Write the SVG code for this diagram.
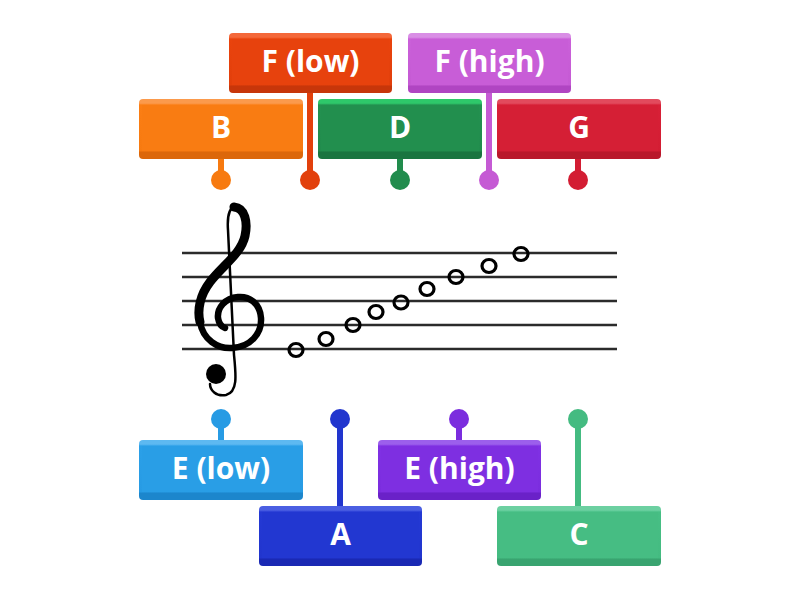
<svg xmlns="http://www.w3.org/2000/svg" width="800" height="600" viewBox="0 0 800 600">
<defs>
<style>
.lbl{font-family:"Open Sans","Noto Sans","Liberation Sans",sans-serif;font-weight:bold;font-size:30px;fill:#ffffff;text-anchor:middle}
.staff line{stroke:#2b2b2b;stroke-width:2.5}
.note{fill:none;stroke:#000;stroke-width:3.2}
.con line{stroke-width:6}
</style>
<linearGradient id="gFl" x1="0" y1="0" x2="0" y2="1"><stop offset="0" stop-color="#f4683a"/><stop offset="0.07" stop-color="#f4683a"/><stop offset="0.1" stop-color="#e9430d"/><stop offset="0.87" stop-color="#e23f0b"/><stop offset="0.88" stop-color="#c7360a"/><stop offset="1" stop-color="#c7360a"/></linearGradient>
<linearGradient id="gFh" x1="0" y1="0" x2="0" y2="1"><stop offset="0" stop-color="#d98ee5"/><stop offset="0.07" stop-color="#d98ee5"/><stop offset="0.1" stop-color="#ca60d9"/><stop offset="0.87" stop-color="#c55ad4"/><stop offset="0.88" stop-color="#b045c2"/><stop offset="1" stop-color="#b045c2"/></linearGradient>
<linearGradient id="gB" x1="0" y1="0" x2="0" y2="1"><stop offset="0" stop-color="#fb9a4c"/><stop offset="0.07" stop-color="#fb9a4c"/><stop offset="0.1" stop-color="#fb7e14"/><stop offset="0.87" stop-color="#f77a10"/><stop offset="0.88" stop-color="#dc670a"/><stop offset="1" stop-color="#dc670a"/></linearGradient>
<linearGradient id="gD" x1="0" y1="0" x2="0" y2="1"><stop offset="0" stop-color="#2ec86a"/><stop offset="0.07" stop-color="#2ec86a"/><stop offset="0.1" stop-color="#239150"/><stop offset="0.87" stop-color="#218c4d"/><stop offset="0.88" stop-color="#1a7540"/><stop offset="1" stop-color="#1a7540"/></linearGradient>
<linearGradient id="gG" x1="0" y1="0" x2="0" y2="1"><stop offset="0" stop-color="#e24a5d"/><stop offset="0.07" stop-color="#e24a5d"/><stop offset="0.1" stop-color="#d82037"/><stop offset="0.87" stop-color="#d31d33"/><stop offset="0.88" stop-color="#b9182b"/><stop offset="1" stop-color="#b9182b"/></linearGradient>
<linearGradient id="gEl" x1="0" y1="0" x2="0" y2="1"><stop offset="0" stop-color="#5db9f1"/><stop offset="0.07" stop-color="#5db9f1"/><stop offset="0.1" stop-color="#2ba0e8"/><stop offset="0.87" stop-color="#279be4"/><stop offset="0.88" stop-color="#1c86cc"/><stop offset="1" stop-color="#1c86cc"/></linearGradient>
<linearGradient id="gA" x1="0" y1="0" x2="0" y2="1"><stop offset="0" stop-color="#4b5fe2"/><stop offset="0.07" stop-color="#4b5fe2"/><stop offset="0.1" stop-color="#2439d4"/><stop offset="0.87" stop-color="#2135ce"/><stop offset="0.88" stop-color="#1a29b4"/><stop offset="1" stop-color="#1a29b4"/></linearGradient>
<linearGradient id="gEh" x1="0" y1="0" x2="0" y2="1"><stop offset="0" stop-color="#9c5fec"/><stop offset="0.07" stop-color="#9c5fec"/><stop offset="0.1" stop-color="#8031e4"/><stop offset="0.87" stop-color="#7b2dde"/><stop offset="0.88" stop-color="#6a21c8"/><stop offset="1" stop-color="#6a21c8"/></linearGradient>
<linearGradient id="gC" x1="0" y1="0" x2="0" y2="1"><stop offset="0" stop-color="#6cd0a1"/><stop offset="0.07" stop-color="#6cd0a1"/><stop offset="0.1" stop-color="#47bf85"/><stop offset="0.87" stop-color="#44bb81"/><stop offset="0.88" stop-color="#39a470"/><stop offset="1" stop-color="#39a470"/></linearGradient>
</defs>
<rect width="800" height="600" fill="#ffffff"/>

<g id="staff" class="staff">
<line x1="182" y1="253" x2="617" y2="253"/>
<line x1="182" y1="277" x2="617" y2="277"/>
<line x1="182" y1="301" x2="617" y2="301"/>
<line x1="182" y1="325" x2="617" y2="325"/>
<line x1="182" y1="349" x2="617" y2="349"/>
</g>
<g id="clef" fill="none" stroke="#000" stroke-linecap="round">
<path d="M 235 206 C 229 208 227 216 228 230 L 234 355 C 236 375 238 392 226 395 C 216 397 210 390 210 384" stroke-width="2.5"/>
<circle cx="216" cy="374" r="10" fill="#000" stroke="none"/>
<path d="M 234 207 C 245 208 248 222 245 236 C 241 254 222 266 210 282 C 200 295 197 310 200 322" stroke-width="9"/>
<path d="M 200 322 C 203 340 218 349 232 348 C 250 347 262 334 261 318 C 260 303 249 296 238 297 C 225 298 217 308 218 318 C 219 324 222 327 225 328" stroke-width="6.5"/>
</g>
<g id="notes">
<ellipse class="note" cx="296" cy="350" rx="7" ry="6.5"/>
<ellipse class="note" cx="326" cy="339" rx="7" ry="6.5"/>
<ellipse class="note" cx="353" cy="325" rx="7" ry="6.5"/>
<ellipse class="note" cx="376" cy="312" rx="7" ry="6.5"/>
<ellipse class="note" cx="401" cy="302.5" rx="7" ry="6.5"/>
<ellipse class="note" cx="427" cy="289" rx="7" ry="6.5"/>
<ellipse class="note" cx="456" cy="277" rx="7" ry="6.5"/>
<ellipse class="note" cx="489" cy="266" rx="7" ry="6.5"/>
<ellipse class="note" cx="521" cy="254" rx="7" ry="6.5"/>
</g>

<g id="connectors" class="con">
<line x1="221" y1="158" x2="221" y2="180" stroke="#f77a10"/><circle cx="221" cy="180" r="10" fill="#f77a10"/>
<line x1="310" y1="92" x2="310" y2="180" stroke="#e2400c"/><circle cx="310" cy="180" r="10" fill="#e2400c"/>
<line x1="400" y1="158" x2="400" y2="180" stroke="#218c4d"/><circle cx="400" cy="180" r="10" fill="#218c4d"/>
<line x1="489" y1="92" x2="489" y2="180" stroke="#c55ad4"/><circle cx="489" cy="180" r="10" fill="#c55ad4"/>
<line x1="578" y1="158" x2="578" y2="180" stroke="#d31d33"/><circle cx="578" cy="180" r="10" fill="#d31d33"/>
<line x1="221" y1="419" x2="221" y2="441" stroke="#279be4"/><circle cx="221" cy="419" r="10" fill="#279be4"/>
<line x1="340" y1="419" x2="340" y2="507" stroke="#2135ce"/><circle cx="340" cy="419" r="10" fill="#2135ce"/>
<line x1="459" y1="419" x2="459" y2="441" stroke="#7b2dde"/><circle cx="459" cy="419" r="10" fill="#7b2dde"/>
<line x1="578" y1="419" x2="578" y2="507" stroke="#44bb81"/><circle cx="578" cy="419" r="10" fill="#44bb81"/>
</g>

<g id="node-f-low"><rect x="229" y="33" width="163" height="60" rx="4" fill="url(#gFl)"/><rect x="232" y="39" width="157" height="46" fill="#e7420d"/><text class="lbl" x="310.5" y="72">F (low)</text></g>
<g id="node-f-high"><rect x="408" y="33" width="163" height="60" rx="4" fill="url(#gFh)"/><rect x="411" y="39" width="157" height="46" fill="#c85dd7"/><text class="lbl" x="489.5" y="72">F (high)</text></g>
<g id="node-b"><rect x="139" y="99" width="164" height="60" rx="4" fill="url(#gB)"/><rect x="142" y="105" width="158" height="46" fill="#f97c12"/><text class="lbl" x="221" y="138">B</text></g>
<g id="node-d"><rect x="318" y="99" width="164" height="60" rx="4" fill="url(#gD)"/><rect x="321" y="105" width="158" height="46" fill="#228f4e"/><text class="lbl" x="400" y="138">D</text></g>
<g id="node-g"><rect x="497" y="99" width="164" height="60" rx="4" fill="url(#gG)"/><rect x="500" y="105" width="158" height="46" fill="#d51f35"/><text class="lbl" x="579" y="138">G</text></g>
<g id="node-e-low"><rect x="139" y="440" width="164" height="60" rx="4" fill="url(#gEl)"/><rect x="142" y="446" width="158" height="46" fill="#299ee6"/><text class="lbl" x="221" y="479">E (low)</text></g>
<g id="node-a"><rect x="259" y="506" width="163" height="60" rx="4" fill="url(#gA)"/><rect x="262" y="512" width="157" height="46" fill="#2237d1"/><text class="lbl" x="340.5" y="545">A</text></g>
<g id="node-e-high"><rect x="378" y="440" width="163" height="60" rx="4" fill="url(#gEh)"/><rect x="381" y="446" width="157" height="46" fill="#7e2fe1"/><text class="lbl" x="459.5" y="479">E (high)</text></g>
<g id="node-c"><rect x="497" y="506" width="164" height="60" rx="4" fill="url(#gC)"/><rect x="500" y="512" width="158" height="46" fill="#46bd83"/><text class="lbl" x="579" y="545">C</text></g>
</svg>
